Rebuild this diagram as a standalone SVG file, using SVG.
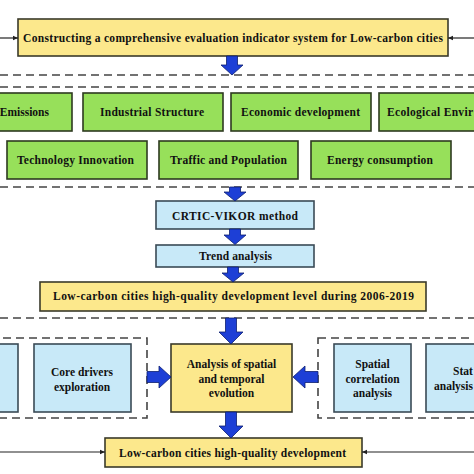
<svg xmlns="http://www.w3.org/2000/svg" width="474" height="474" viewBox="0 0 474 474">
<style>
.y{fill:#fce88c;stroke:#3a3a2a;stroke-width:1.6}
.g{fill:#97e05a;stroke:#2d3a20;stroke-width:1.6}
.b{fill:#c8e9f8;stroke:#3a4a55;stroke-width:1.6}
.d{fill:none;stroke:#444;stroke-width:1.6;stroke-dasharray:8 5}
.t{font-family:"Liberation Serif","Times New Roman",serif;font-weight:bold;font-size:11.5px;fill:#111;text-anchor:middle}
.ar{fill:#1d3fd6;stroke:#0c1f70;stroke-width:0.8}
.ln{stroke:#222;stroke-width:1.2;fill:none}
</style>
<defs>
<marker id="m" markerWidth="6" markerHeight="6" refX="5" refY="3" orient="auto" markerUnits="userSpaceOnUse">
<path d="M0,0.8 L5,3 L0,5.2z" fill="#222"/>
</marker>
</defs>
<rect width="474" height="474" fill="#fff"/>

<g id="dashes">
<line class="d" x1="0" y1="75" x2="474" y2="75"/>
<line class="d" x1="0" y1="87" x2="474" y2="87"/>
<line class="d" x1="0" y1="187" x2="474" y2="187"/>
<line class="d" x1="0" y1="318" x2="474" y2="318"/>
<rect class="d" x="-10" y="338" width="157" height="80"/>
<rect class="d" x="318" y="338" width="170" height="80"/>
</g>

<g id="n-top"><rect class="y" x="18" y="19" width="430" height="37"/>
<text class="t" x="233" y="42" textLength="420" lengthAdjust="spacing">Constructing a comprehensive evaluation indicator system for Low-carbon cities</text></g>

<g id="n-emissions"><rect class="g" x="-10" y="93" width="82" height="38"/><text class="t" x="49" y="116" style="text-anchor:end">Emissions</text></g>
<g id="n-industrial"><rect class="g" x="83" y="93" width="140" height="38"/><text class="t" x="152" y="116" textLength="104">Industrial Structure</text></g>
<g id="n-economic"><rect class="g" x="231" y="93" width="140" height="38"/><text class="t" x="300.5" y="116" textLength="119">Economic development</text></g>
<g id="n-ecological"><rect class="g" x="379" y="93" width="110" height="38"/><text class="t" x="387" y="116" style="text-anchor:start" textLength="86">Ecological Envir</text></g>
<g id="n-tech"><rect class="g" x="7" y="141" width="140" height="38"/><text class="t" x="75.5" y="164" textLength="117">Technology Innovation</text></g>
<g id="n-traffic"><rect class="g" x="159" y="141" width="139" height="38"/><text class="t" x="228.5" y="164" textLength="117">Traffic and Population</text></g>
<g id="n-energy"><rect class="g" x="311" y="141" width="140" height="38"/><text class="t" x="380" y="164" textLength="106">Energy consumption</text></g>

<g id="n-critic"><rect class="b" x="156" y="201" width="158" height="28"/><text class="t" x="235" y="220" textLength="126">CRTIC-VIKOR method</text></g>
<g id="n-trend"><rect class="b" x="156" y="245" width="158" height="22"/><text class="t" x="235.5" y="260" textLength="73">Trend analysis</text></g>
<g id="n-level"><rect class="y" x="40" y="282" width="386" height="29"/><text class="t" x="233.5" y="300" textLength="361">Low-carbon cities high-quality development level during 2006-2019</text></g>

<g id="n-leftpart"><rect class="b" x="-10" y="344" width="28" height="68"/></g>
<g id="n-core"><rect class="b" x="34" y="344" width="97" height="68"/>
<text class="t" x="82" y="376">Core drivers</text><text class="t" x="82" y="391">exploration</text></g>
<g id="n-analysis"><rect class="y" x="171" y="344" width="121" height="68"/>
<text class="t" x="231.5" y="368">Analysis of spatial</text><text class="t" x="231.5" y="383">and temporal</text><text class="t" x="231.5" y="397">evolution</text></g>
<g id="n-spatial"><rect class="b" x="334" y="344" width="77" height="68"/>
<text class="t" x="372.5" y="368">Spatial</text><text class="t" x="372.5" y="383">correlation</text><text class="t" x="372.5" y="397">analysis</text></g>
<g id="n-stat"><rect class="b" x="426" y="344" width="60" height="68"/>
<text class="t" x="453" y="375" style="text-anchor:start">Stat</text><text class="t" x="434" y="390" style="text-anchor:start">analysis</text></g>
<g id="n-bottom"><rect class="y" x="105" y="438" width="257" height="29"/><text class="t" x="232.5" y="457" textLength="227">Low-carbon cities high-quality development</text></g>

<g id="connectors">
<line class="ln" x1="0" y1="38" x2="18" y2="38" marker-end="url(#m)"/>
<line class="ln" x1="474" y1="38" x2="448" y2="38" marker-end="url(#m)"/>
<line class="ln" x1="0" y1="452" x2="105" y2="452" marker-end="url(#m)"/>
<line class="ln" x1="474" y1="452" x2="362" y2="452" marker-end="url(#m)"/>
<path class="ar" d="M226.5,56 H237.5 V65 H243 L232,75 L221,65 H226.5 Z"/>
<path class="ar" d="M229.5,187 H240.5 V192 H246 L235,201 L224,192 H229.5 Z"/>
<path class="ar" d="M229.5,229 H240.5 V235 H246 L235,244.5 L224,235 H229.5 Z"/>
<path class="ar" d="M227.5,267 H238.5 V273 H244 L233,282 L222,273 H227.5 Z"/>
<path class="ar" d="M225.5,318 H236.5 V332 H243 L231,344 L219,332 H225.5 Z"/>
<path class="ar" d="M225.5,412 H236.5 V426 H243 L231,438 L219,426 H225.5 Z"/>
<path class="ar" d="M147,371.5 V382.5 H159 V388 L171,377 L159,366 V371.5 Z"/>
<path class="ar" d="M318,371.5 V382.5 H305 V388 L293,377 L305,366 V371.5 Z"/>
</g>
</svg>
